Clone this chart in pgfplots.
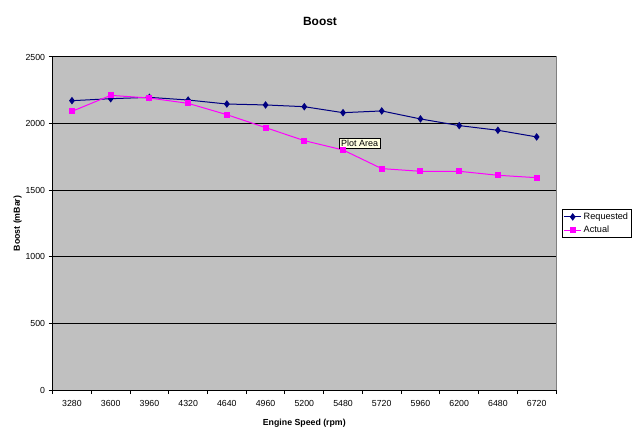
\documentclass[border=0pt]{standalone}
\usepackage{pgfplots}
\pgfplotsset{compat=1.18}
\usepackage{fontspec}
\setmainfont{Liberation Sans}
\definecolor{plotgray}{HTML}{C0C0C0}
\definecolor{xlnavy}{HTML}{000080}
\definecolor{xlmagenta}{HTML}{FF00FF}
\definecolor{tipyellow}{HTML}{FFFFE1}
\begin{document}
\begin{tikzpicture}
\useasboundingbox (0bp,0bp) rectangle (640bp,441bp);
\node[font=\fontsize{12}{14}\selectfont\bfseries] at (320bp,420bp) {Boost};
\begin{axis}[
    at={(52.6bp,51bp)}, anchor=south west,
    scale only axis, width=503.4bp, height=333bp,
    xmin=-0.5, xmax=12.5, ymin=0, ymax=2500,
    xtick={0,...,12},
    xticklabels={3280,3600,3960,4320,4640,4960,5200,5480,5720,5960,6200,6480,6720},
    minor xtick={-0.5,0.5,...,12.5},
    ytick={0,500,...,2500},
    axis lines*=left, axis line style={black,-,line width=1bp},
    axis background/.style={fill=plotgray, draw=gray, line width=1bp},
    ymajorgrids, y grid style={black, line width=1bp},
    tick align=outside,
    major tick length=4bp, minor tick length=4bp,
    major x tick style={draw=none},
    minor x tick style={black, line width=1bp},
    y tick style={black, line width=1bp},
    tick label style={font=\fontsize{8.8}{10}\selectfont},
    xticklabel style={yshift=-3bp},
    /pgf/number format/assume math mode=true,
    /pgf/number format/1000 sep={},
    scaled y ticks=false,
    xlabel={Engine Speed (rpm)}, ylabel={Boost (mBar)},
    label style={font=\fontsize{8.8}{10}\selectfont\bfseries},
    xlabel style={yshift=-6bp},
    ylabel style={yshift=-3bp},
    legend style={at={(1,0.5)}, anchor=west, xshift=6bp, draw=black,
        font=\fontsize{9.2}{11}\selectfont, inner sep=1.5bp,
        row sep=1bp},
    legend cell align=left,
]
\addplot[xlnavy, line width=1bp, mark=diamond*, mark size=3bp, mark options={fill=xlnavy}]
    coordinates {(0,2172) (1,2187) (2,2197) (3,2177) (4,2147) (5,2140) (6,2127)
                 (7,2082) (8,2095) (9,2035) (10,1985) (11,1950) (12,1900)};
\addplot[xlmagenta, line width=1bp, mark=square*, mark size=2.5bp, mark options={fill=xlmagenta}]
    coordinates {(0,2092) (1,2212) (2,2192) (3,2152) (4,2067) (5,1970) (6,1872)
                 (7,1802) (8,1662) (9,1642) (10,1642) (11,1612) (12,1594)};
\legend{Requested,Actual}
\node[draw=black, fill=tipyellow, font=\fontsize{9}{10.8}\selectfont, inner sep=1.8bp]
    at (axis cs:7.43,1854) {Plot Area};
\end{axis}
\end{tikzpicture}
\end{document}
